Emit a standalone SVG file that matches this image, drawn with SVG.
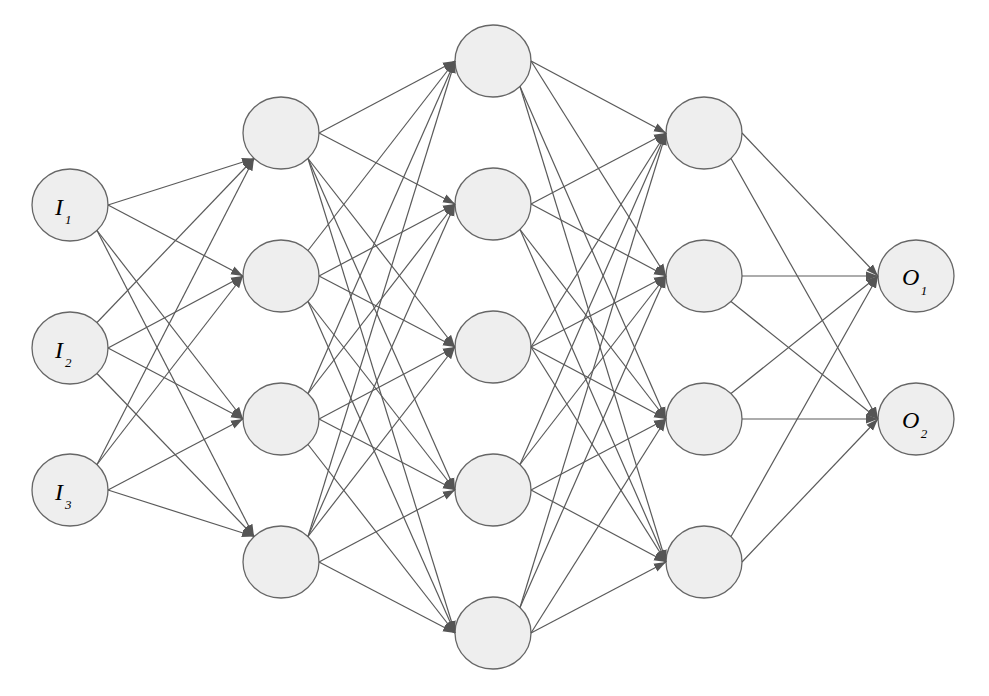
<svg xmlns="http://www.w3.org/2000/svg" width="989" height="696" viewBox="0 0 989 696">
<style>
.n{fill:#eeeeee;stroke:#666666;stroke-width:1.3}
.e line{stroke:#5a5a5a;stroke-width:1.2;marker-end:url(#arr)}
.lb{font-family:"Liberation Serif","Times New Roman",serif;font-style:italic;font-size:24px;fill:#000}
.sb{font-size:13px}
</style>
<defs>
<marker id="arr" markerUnits="userSpaceOnUse" markerWidth="12" markerHeight="10" refX="12" refY="5" orient="auto">
<path d="M0,0.6 L12,5 L0,9.4 z" fill="#555555"/>
</marker>
</defs>
<rect width="989" height="696" fill="#ffffff"/>
<g id="nodes">
<g id="I1"><ellipse class="n" cx="70" cy="205" rx="38" ry="36"/><text class="lb" x="55" y="214.5">I<tspan class="sb" dx="2" dy="9">1</tspan></text></g>
<g id="I2"><ellipse class="n" cx="70" cy="348" rx="38" ry="36"/><text class="lb" x="55" y="357.5">I<tspan class="sb" dx="2" dy="9">2</tspan></text></g>
<g id="I3"><ellipse class="n" cx="70" cy="490" rx="38" ry="36"/><text class="lb" x="55" y="499.5">I<tspan class="sb" dx="2" dy="9">3</tspan></text></g>
<g id="H1a"><ellipse class="n" cx="281" cy="133" rx="38" ry="36"/></g>
<g id="H1b"><ellipse class="n" cx="281" cy="276" rx="38" ry="36"/></g>
<g id="H1c"><ellipse class="n" cx="281" cy="419" rx="38" ry="36"/></g>
<g id="H1d"><ellipse class="n" cx="281" cy="562" rx="38" ry="36"/></g>
<g id="H2a"><ellipse class="n" cx="493" cy="61" rx="38" ry="36"/></g>
<g id="H2b"><ellipse class="n" cx="493" cy="204" rx="38" ry="36"/></g>
<g id="H2c"><ellipse class="n" cx="493" cy="347" rx="38" ry="36"/></g>
<g id="H2d"><ellipse class="n" cx="493" cy="490" rx="38" ry="36"/></g>
<g id="H2e"><ellipse class="n" cx="493" cy="633" rx="38" ry="36"/></g>
<g id="H3a"><ellipse class="n" cx="704" cy="133" rx="38" ry="36"/></g>
<g id="H3b"><ellipse class="n" cx="704" cy="276" rx="38" ry="36"/></g>
<g id="H3c"><ellipse class="n" cx="704" cy="419" rx="38" ry="36"/></g>
<g id="H3d"><ellipse class="n" cx="704" cy="562" rx="38" ry="36"/></g>
<g id="O1"><ellipse class="n" cx="916" cy="276" rx="38" ry="36"/><text class="lb" x="902" y="285">O<tspan class="sb" dx="1.5" dy="9.5">1</tspan></text></g>
<g id="O2"><ellipse class="n" cx="916" cy="419" rx="38" ry="36"/><text class="lb" x="902" y="428">O<tspan class="sb" dx="1.5" dy="9.5">2</tspan></text></g>
</g>
<g id="connectors" class="e">
<line x1="108" y1="205" x2="254" y2="158.5"/>
<line x1="108" y1="205" x2="243" y2="276"/>
<line x1="97" y1="230.5" x2="243" y2="419"/>
<line x1="97" y1="230.5" x2="254" y2="536.5"/>
<line x1="97" y1="322.5" x2="254" y2="158.5"/>
<line x1="108" y1="348" x2="243" y2="276"/>
<line x1="108" y1="348" x2="243" y2="419"/>
<line x1="97" y1="373.5" x2="254" y2="536.5"/>
<line x1="97" y1="464.5" x2="254" y2="158.5"/>
<line x1="97" y1="464.5" x2="243" y2="276"/>
<line x1="108" y1="490" x2="243" y2="419"/>
<line x1="108" y1="490" x2="254" y2="536.5"/>

<line x1="319" y1="133" x2="455" y2="61"/>
<line x1="319" y1="133" x2="455" y2="204"/>
<line x1="308" y1="158.5" x2="455" y2="347"/>
<line x1="308" y1="158.5" x2="455" y2="490"/>
<line x1="308" y1="158.5" x2="455" y2="633"/>
<line x1="308" y1="250.5" x2="455" y2="61"/>
<line x1="319" y1="276" x2="455" y2="204"/>
<line x1="319" y1="276" x2="455" y2="347"/>
<line x1="308" y1="301.5" x2="455" y2="490"/>
<line x1="308" y1="301.5" x2="455" y2="633"/>
<line x1="308" y1="393.5" x2="455" y2="61"/>
<line x1="308" y1="393.5" x2="455" y2="204"/>
<line x1="319" y1="419" x2="455" y2="347"/>
<line x1="319" y1="419" x2="455" y2="490"/>
<line x1="308" y1="444.5" x2="455" y2="633"/>
<line x1="308" y1="536.5" x2="455" y2="61"/>
<line x1="308" y1="536.5" x2="455" y2="204"/>
<line x1="308" y1="536.5" x2="455" y2="347"/>
<line x1="319" y1="562" x2="455" y2="490"/>
<line x1="319" y1="562" x2="455" y2="633"/>

<line x1="531" y1="61" x2="666" y2="133"/>
<line x1="531" y1="61" x2="666" y2="276"/>
<line x1="520" y1="86.5" x2="666" y2="419"/>
<line x1="520" y1="86.5" x2="666" y2="562"/>
<line x1="531" y1="204" x2="666" y2="133"/>
<line x1="531" y1="204" x2="666" y2="276"/>
<line x1="520" y1="229.5" x2="666" y2="419"/>
<line x1="520" y1="229.5" x2="666" y2="562"/>
<line x1="531" y1="347" x2="666" y2="133"/>
<line x1="531" y1="347" x2="666" y2="276"/>
<line x1="531" y1="347" x2="666" y2="419"/>
<line x1="531" y1="347" x2="666" y2="562"/>
<line x1="520" y1="464.5" x2="666" y2="133"/>
<line x1="520" y1="464.5" x2="666" y2="276"/>
<line x1="531" y1="490" x2="666" y2="419"/>
<line x1="531" y1="490" x2="666" y2="562"/>
<line x1="520" y1="607.5" x2="666" y2="133"/>
<line x1="520" y1="607.5" x2="666" y2="276"/>
<line x1="531" y1="633" x2="666" y2="419"/>
<line x1="531" y1="633" x2="666" y2="562"/>

<line x1="742" y1="133" x2="878" y2="276"/>
<line x1="731" y1="158.5" x2="878" y2="419"/>
<line x1="742" y1="276" x2="878" y2="276"/>
<line x1="731" y1="301.5" x2="878" y2="419"/>
<line x1="731" y1="393.5" x2="878" y2="276"/>
<line x1="742" y1="419" x2="878" y2="419"/>
<line x1="731" y1="536.5" x2="878" y2="276"/>
<line x1="742" y1="562" x2="878" y2="419"/>
</g>
</svg>
